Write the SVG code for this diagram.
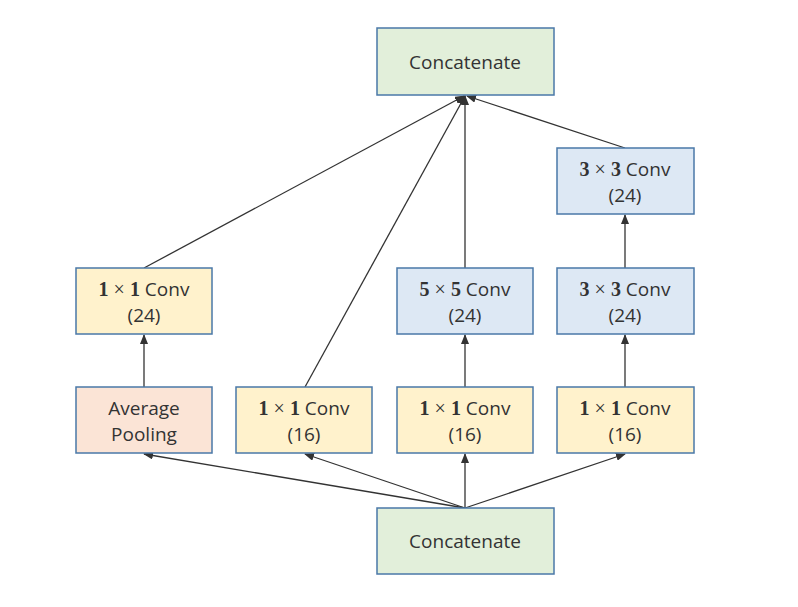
<svg xmlns="http://www.w3.org/2000/svg" width="798" height="607" viewBox="0 0 798 607">
<style>
rect{stroke:#4a78a8;stroke-width:1.5}
.g{fill:#e2efda}.y{fill:#fff2cc}.b{fill:#dde8f4}.p{fill:#fbe4d6}
text{font-family:"Open Sans","Liberation Sans",sans-serif;font-size:19px;fill:#333;text-anchor:middle}
.n{font-family:"Liberation Serif",serif;font-weight:bold;font-size:20px}
.x{font-family:"Liberation Serif",serif;font-size:20px}
#c line{stroke:#333;stroke-width:1.3;marker-end:url(#a)}
</style>
<defs><marker id="a" markerWidth="10" markerHeight="8" refX="9" refY="4" orient="auto" markerUnits="userSpaceOnUse"><path d="M0,0L10,4L0,8z" fill="#333"/></marker></defs>
<g id="c">
<line x1="465" y1="508" x2="144" y2="454"/>
<line x1="465" y1="508" x2="305" y2="454"/>
<line x1="465" y1="508" x2="465" y2="454"/>
<line x1="465" y1="508" x2="625" y2="454"/>
<line x1="144" y1="387" x2="144" y2="335"/>
<line x1="465" y1="387" x2="465" y2="335"/>
<line x1="625" y1="387" x2="625" y2="335"/>
<line x1="625" y1="268" x2="625" y2="215"/>
<line x1="144" y1="268" x2="464" y2="96"/>
<line x1="305" y1="387" x2="465" y2="96"/>
<line x1="465" y1="268" x2="465" y2="96"/>
<line x1="625" y1="148" x2="467" y2="96"/>
</g>
<g id="top"><rect class="g" x="377" y="28" width="177" height="67"/><text x="465" y="69">Concatenate</text></g>
<g id="bot"><rect class="g" x="377" y="508" width="177" height="66"/><text x="465" y="548">Concatenate</text></g>
<g id="pool"><rect class="p" x="76" y="387" width="136" height="66"/><text x="144" y="415">Average</text><text x="144" y="441">Pooling</text></g>
<g id="c1"><rect class="y" x="236" y="387" width="136" height="66"/><text x="304" y="415"><tspan class="n">1</tspan><tspan class="x"> × </tspan><tspan class="n">1</tspan> Conv</text><text x="304" y="441">(16)</text></g>
<g id="c2"><rect class="y" x="397" y="387" width="136" height="66"/><text x="465" y="415"><tspan class="n">1</tspan><tspan class="x"> × </tspan><tspan class="n">1</tspan> Conv</text><text x="465" y="441">(16)</text></g>
<g id="c3"><rect class="y" x="557" y="387" width="137" height="66"/><text x="625" y="415"><tspan class="n">1</tspan><tspan class="x"> × </tspan><tspan class="n">1</tspan> Conv</text><text x="625" y="441">(16)</text></g>
<g id="c4"><rect class="y" x="76" y="268" width="136" height="66"/><text x="144" y="296"><tspan class="n">1</tspan><tspan class="x"> × </tspan><tspan class="n">1</tspan> Conv</text><text x="144" y="322">(24)</text></g>
<g id="c5"><rect class="b" x="397" y="268" width="136" height="66"/><text x="465" y="296"><tspan class="n">5</tspan><tspan class="x"> × </tspan><tspan class="n">5</tspan> Conv</text><text x="465" y="322">(24)</text></g>
<g id="c6"><rect class="b" x="557" y="268" width="137" height="66"/><text x="625" y="296"><tspan class="n">3</tspan><tspan class="x"> × </tspan><tspan class="n">3</tspan> Conv</text><text x="625" y="322">(24)</text></g>
<g id="c7"><rect class="b" x="557" y="148" width="137" height="66"/><text x="625" y="176"><tspan class="n">3</tspan><tspan class="x"> × </tspan><tspan class="n">3</tspan> Conv</text><text x="625" y="202">(24)</text></g>
</svg>
